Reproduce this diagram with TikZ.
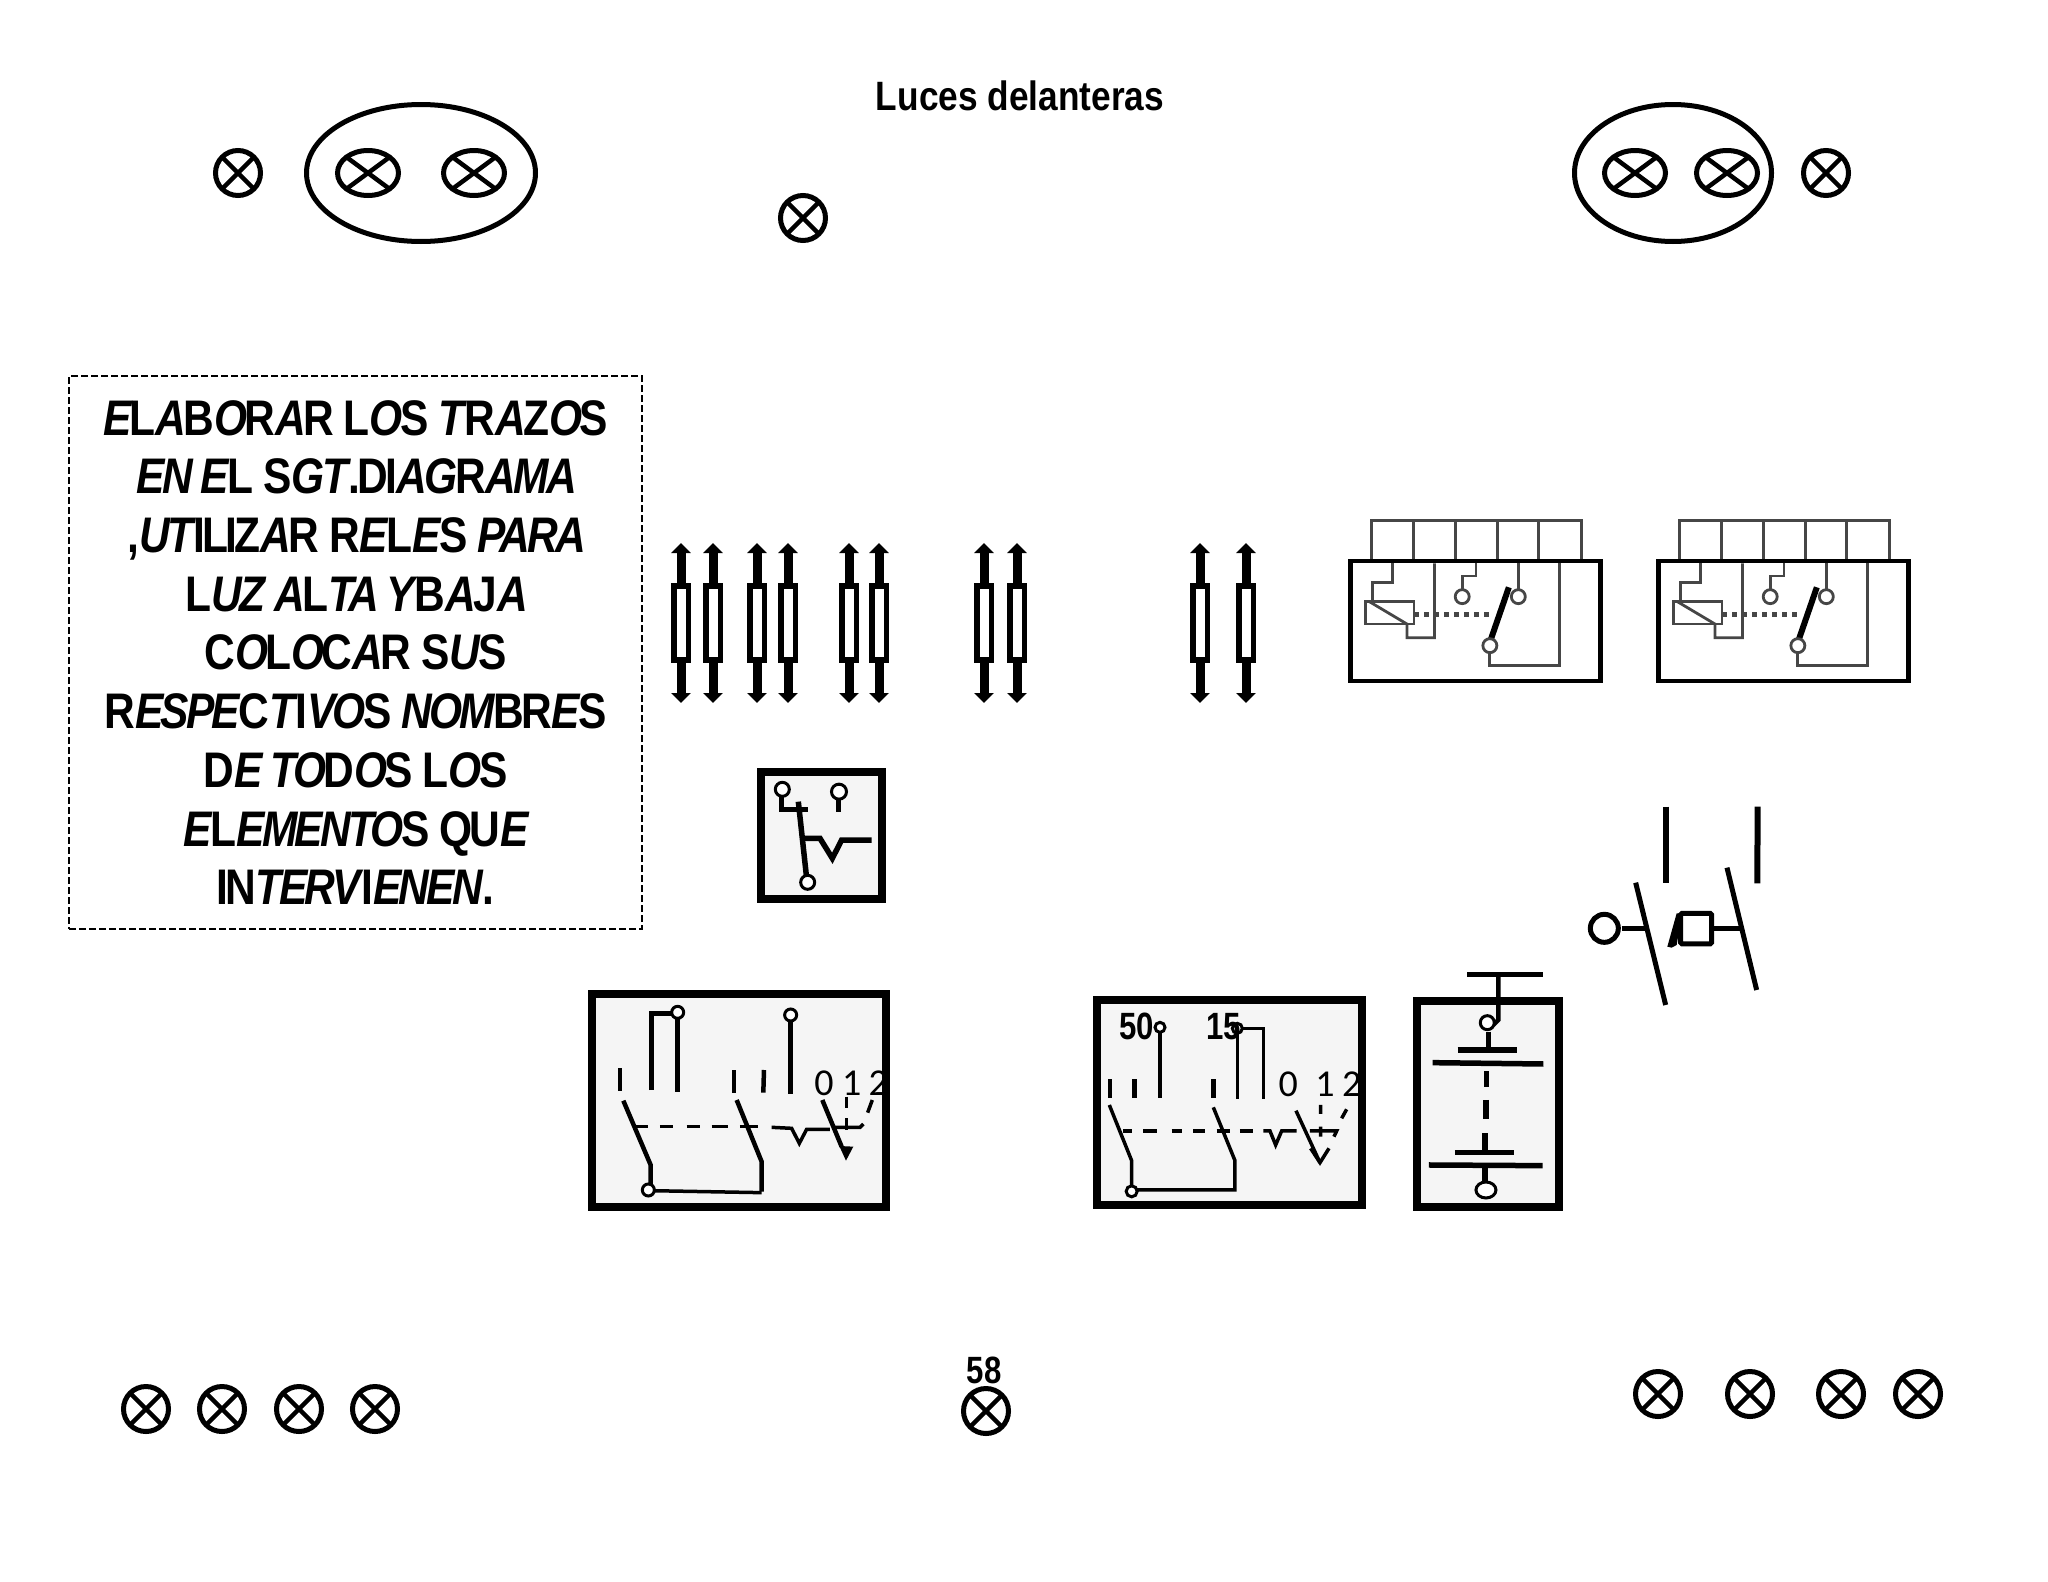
\documentclass[tikz,border=0pt]{standalone}
\usepackage{fontspec}
\usepackage{xcolor}
\setmainfont{Liberation Sans}
\newfontfamily\narrowfont[FakeStretch=0.82]{Liberation Sans}
\newfontfamily\headfont[FakeStretch=0.86]{Liberation Sans}
\newfontfamily\notefont[FakeStretch=0.85,LetterSpace=-5.5,WordSpace=1.1]{Liberation Sans}
\newfontfamily\digitfont{Carlito}
\usetikzlibrary{shapes.geometric,arrows.meta}
\definecolor{panelgray}{RGB}{245,245,245}
\definecolor{relaygray}{RGB}{70,70,70}
\newcommand{\ii}[1]{\textit{#1}}

\begin{document}
\begin{tikzpicture}[
    x=1pt, y=-1pt,
    bulb/.style={circle, draw, line width=5pt, minimum size=45pt, inner sep=0pt,
        path picture={\draw[line width=4.5pt] (path picture bounding box.north west) -- (path picture bounding box.south east)
            (path picture bounding box.north east) -- (path picture bounding box.south west);}},
    flatbulb/.style={ellipse, draw, line width=5pt, minimum width=61pt, minimum height=45pt, inner sep=0pt,
        path picture={\draw[line width=4.5pt] (path picture bounding box.north west) -- (path picture bounding box.south east)
            (path picture bounding box.north east) -- (path picture bounding box.south west);}},
    lamp/.style={ellipse, draw, line width=5pt, minimum height=137pt, inner sep=0pt},
    fuse/.style={rectangle, draw, line width=5.5pt, minimum width=14.5pt, minimum height=74pt, inner sep=0pt},
    fusearrow/.style={-{Triangle[width=19pt,length=10pt]}, line width=9pt},
    note/.style={rectangle, draw, dash pattern=on 7pt off 3pt, line width=2pt, minimum width=573pt, minimum height=553pt, align=center,
        font=\notefont\bfseries\fontsize{50}{58.7}\selectfont},
    heading/.style={font=\headfont\bfseries\fontsize{41}{41}\selectfont},
    number/.style={font=\digitfont\fontsize{38}{38}\selectfont, inner sep=0pt},
    bignum/.style={font=\narrowfont\bfseries\fontsize{38}{38}\selectfont, inner sep=0pt},
    relayline/.style={draw=relaygray, line width=2.8pt},
    wire/.style={line width=4.5pt},
    thinwire/.style={line width=3.5pt},
    thickwire/.style={line width=5.5pt},
    term/.style={draw, fill=white, line width=3pt},
    frame/.style={draw, line width=8.3pt},
    panelfill/.style={fill=panelgray},
    third/.style={x=0.3333pt, y=-0.3333pt}
]
\useasboundingbox (0,0) rectangle (2048,1582);

\node[heading] (title) at (1020,96) {Luces delanteras};
\node[bignum] (page) at (984,1370) {58};

\node[bulb] (lampL) at (238,173) {};
\node[lamp, minimum width=229pt] (headL) at (421,173) {};
\node[flatbulb] (lowL) at (368,173) {};
\node[flatbulb] (highL) at (474,173) {};
\node[lamp, minimum width=197pt] (headR) at (1673,173) {};
\node[flatbulb] (lowR) at (1635,173) {};
\node[flatbulb] (highR) at (1727,173) {};
\node[bulb] (lampR) at (1826,173) {};
\node[bulb] (lampC) at (803,218) {};

\foreach \px/\py [count=\i] in {146/1409,222/1409,299/1409,375/1409,986/1411,1658/1394,1750/1394,1841/1394,1918/1394}
    \node[bulb] (rear\i) at (\px,\py) {};

\node[note] (task) at (355.5,652.5) {
\ii{E}L\ii{A}B\ii{O}R\ii{A}R L\ii{O}S \ii{T}R\ii{A}Z\ii{O}S\\
\ii{EN} \ii{E}L S\ii{GT}.DI\ii{AG}R\ii{AMA}\\
,\ii{UT}ILIZ\ii{A}R R\ii{E}L\ii{E}S \ii{PARA}\\
L\ii{UZ} \ii{A}L\ii{TA} \ii{Y}B\ii{A}J\ii{A}\\
C\ii{O}L\ii{O}C\ii{A}R S\ii{U}S\\
R\ii{ESPE}C\ii{T}I\ii{VO}S \ii{NOM}BR\ii{E}S\\
D\ii{E} \ii{TO}D\ii{O}S L\ii{O}S\\
\ii{E}L\ii{EMENTO}S QU\ii{E}\\
IN\ii{TER}\ii{V}I\ii{ENEN}.};

\foreach \fx [count=\i] in {681,713,757,788,849,879,984,1017,1200,1246} {
    \node[fuse] (fuse\i) at (\fx,623) {};
    \coordinate (top\i) at (\fx,543);
    \coordinate (bot\i) at (\fx,703);
    \draw[fusearrow] (fuse\i.north) -- (top\i);
    \draw[fusearrow] (fuse\i.south) -- (bot\i);
}

\foreach \rx in {1320,1628} {
\begin{scope}[shift={(\rx,500)}, x=0.395pt, y=-0.3333pt]
    \draw[relayline] (130,183) -- (130,62) -- (662,62) -- (662,183);
    \foreach \vx in {237,342,449,553}
        \draw[relayline] (\vx,62) -- (\vx,183);
    \draw[relayline] (183,190) -- (183,248) -- (132,248) -- (132,305);
    \draw[relayline] (115,305) rectangle (238,372);
    \draw[relayline] (125,305) -- (220,372) -- (220,413) -- (290,413) -- (290,190);
    \draw[relayline] (395,190) -- (395,228) -- (360,228) -- (360,270);
    \draw[relayline] (502,190) -- (502,270);
    \draw[relayline, line width=4.5pt, dash pattern=on 5pt off 5pt] (238,343) -- (435,343);
    \draw[line width=6pt] (478,262) -- (432,420);
    \draw[relayline] (430,455) -- (430,497) -- (607,497) -- (607,190);
    \draw[relayline, fill=white] (360,290) circle[radius=7pt];
    \draw[relayline, fill=white] (502,290) circle[radius=7pt];
    \draw[relayline, fill=white] (430,437) circle[radius=7pt];
    \draw[line width=4.8pt] (78,183) rectangle (710,543);
\end{scope}
}

\begin{scope}[shift={(740,750)}, third]
    \draw[panelfill] (62,67) rectangle (426,448);
    \draw[thickwire] (125,140) -- (125,178) -- (205,178);
    \draw[thickwire] (295,150) -- (295,185);
    \draw[thickwire] (175,155) -- (200,385);
    \draw[thickwire] (190,265) -- (240,265) -- (277,325) -- (305,270) -- (395,270);
    \draw[term] (127,118) circle[radius=7pt];
    \draw[term] (297,125) circle[radius=7.5pt];
    \draw[term] (203,397) circle[radius=7pt];
    \draw[frame] (62,67) rectangle (426,448);
\end{scope}

\begin{scope}[shift={(570,970)}, third]
    \draw[panelfill] (67,72) rectangle (948,712);
    \foreach \ax/\ay/\bx/\by in {150/295/150/362,492/300/492/368,582/300/580/368}
        \draw[wire] (\ax,\ay) -- (\bx,\by);
    \draw[thickwire] (245,360) -- (245,130) -- (322,130);
    \draw[wire] (323,145) -- (323,365);
    \draw[wire] (662,155) -- (662,372);
    \draw[wire] (160,392) -- (242,585) -- (242,650);
    \draw[wire] (500,390) -- (575,575) -- (575,665);
    \draw[thinwire] (240,662) -- (575,668);
    \foreach \ax/\bx in {195/235,270/310,350/390,425/475,510/565}
        \draw[thinwire] (\ax,470) -- (\bx,470);
    \draw[thinwire] (605,472) -- (665,475) -- (688,520) -- (710,478) -- (780,478);
    \draw[thinwire] (790,472) -- (870,472) -- (880,462);
    \draw[wire] (757,390) -- (815,530);
    \fill (808,528) -- (850,530) -- (828,572) -- cycle;
    \draw[thinwire] (830,380) -- (830,415) (830,445) -- (830,480);
    \draw[thinwire] (907,390) -- (893,428);
    \draw[term] (323,127) circle[radius=6pt];
    \draw[term] (662,135) circle[radius=6pt];
    \draw[term] (235,660) circle[radius=6pt];
    \node[number] (zeroA) at (762,340) {0};
    \node[number] (oneA) at (845,340) {1};
    \node[number] (twoA) at (925,340) {2};
    \draw[frame] (67,72) rectangle (948,712);
\end{scope}

\begin{scope}[shift={(1080,970)}, third]
    \draw[panelfill] (50,90) rectangle (845,706);
    \foreach \dx in {90,163,400}
        \draw[wire] (\dx,328) -- (\dx,385);
    \draw[wire] (240,188) -- (240,385);
    \draw[thinwire] (472,180) -- (472,388);
    \draw[thinwire] (472,175) -- (550,175) -- (550,388);
    \draw[thinwire] (88,405) -- (155,572) -- (155,660);
    \draw[thinwire] (400,412) -- (465,572) -- (465,660) -- (155,660);
    \foreach \ax/\bx in {130/155,190/230,275/305,340/375,410/450,480/520}
        \draw[thinwire] (\ax,483) -- (\bx,483);
    \draw[thinwire] (550,483) -- (570,483) -- (587,525) -- (605,483) -- (650,483);
    \draw[thinwire] (690,483) -- (770,483) -- (762,500);
    \draw[thinwire] (648,422) -- (720,578);
    \draw[thinwire] (692,535) -- (720,578) -- (747,535);
    \draw[thinwire] (722,405) -- (722,432) (722,470) -- (722,500) (800,418) -- (785,445);
    \draw[term] (240,172) circle[radius=5pt];
    \draw[term] (472,175) circle[radius=5pt];
    \draw[term] (155,664) circle[radius=5.5pt];
    \node[bignum] (fifty) at (170,170) {50};
    \node[bignum] (fifteen) at (432,170) {15};
    \node[number] (zeroB) at (625,342) {0};
    \node[number] (oneB) at (735,342) {1};
    \node[number] (twoB) at (815,342) {2};
    \draw[frame] (50,90) rectangle (845,706);

    \draw[panelfill] (1012,94) rectangle (1438,710);
    \draw[frame] (1012,94) rectangle (1438,710);
    \draw[thickwire] (1162,14) -- (1390,14);
    \draw[wire] (1255,14) -- (1255,150) -- (1240,165);
    \draw[wire] (1225,185) -- (1225,235);
    \draw[thickwire] (1133,240) -- (1312,240);
    \draw[thickwire] (1058,278) -- (1390,282);
    \draw[thickwire] (1220,303) -- (1220,352) (1218,390) -- (1218,448) (1215,490) -- (1215,548);
    \draw[thickwire] (1125,548) -- (1302,548);
    \draw[thickwire] (1047,585) -- (1388,587);
    \draw[thickwire] (1215,590) -- (1215,635);
    \draw[term] (1222,158) circle[radius=7pt];
    \draw[term] (1218,660) ellipse[x radius=30, y radius=24];
\end{scope}

\begin{scope}[shift={(1560,790)}, third]
    \draw[line width=6pt] (318,50) -- (318,278);
    \draw[line width=6pt] (593,50) -- (592,280);
    \draw[line width=5pt] (227,278) -- (317,645);
    \draw[line width=5pt] (501,233) -- (590,600);
    \draw[line width=5pt] (133,415) circle[radius=14pt];
    \draw[line width=5pt] (185,415) -- (262,415);
    \draw[line width=5pt, rounded corners=1.5pt] (362,370) rectangle (455,462);
    \draw[line width=5pt] (460,415) -- (540,415);
    \fill (350,370) -- (366,370) -- (350,465) -- (335,473) -- (322,470) -- cycle;
\end{scope}
\end{tikzpicture}
\end{document}
